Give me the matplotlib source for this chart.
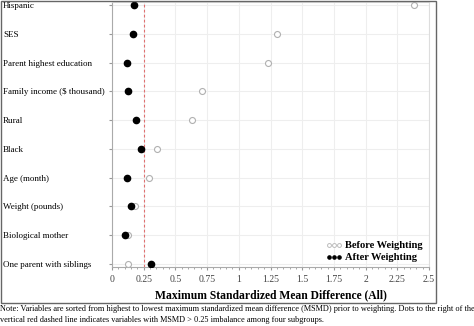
import matplotlib
matplotlib.use("Agg")
from matplotlib import pyplot as plt
from matplotlib.patches import Rectangle
from matplotlib.lines import Line2D
import matplotlib.transforms as mtransforms

variables = ['Hispanic', 'SES', 'Parent highest education', 'Family income ($ thousand)',
             'Rural', 'Black', 'Age (month)', 'Weight (pounds)', 'Biological mother',
             'One parent with siblings']
before = [2.38, 1.30, 1.23, 0.71, 0.63, 0.355, 0.29, 0.18, 0.13, 0.13]
after = [0.175, 0.167, 0.12, 0.127, 0.188, 0.225, 0.119, 0.148, 0.103, 0.307]
threshold = 0.25
xticks = [0, 0.25, 0.5, 0.75, 1, 1.25, 1.5, 1.75, 2, 2.25, 2.5]
xticklabels = ['0', '0.25', '0.5', '0.75', '1', '1.25', '1.5', '1.75', '2', '2.25', '2.5']

plt.rcParams['font.family'] = ['Liberation Serif', 'DejaVu Serif']

fig = plt.figure(figsize=(4.74, 3.26), dpi=100)
ax = fig.add_axes([112 / 474, 1 - 267 / 326, (429 - 112) / 474, 265 / 326])

ypos = list(range(len(variables) - 1, -1, -1))
ax.plot(before, ypos, 'o', ms=4.3, mfc='white', mec='#b0b0b0', mew=0.8, zorder=3)
ax.plot(after, ypos, 'o', ms=4.5, mfc='black', mec='black', zorder=4)
ax.axvline(threshold, color='#e07070', lw=0.8, ls=(0, (2.5, 2)), zorder=2)

ax.set_xlim(0, 2.5)
ax.set_ylim(-0.104, 9.104)
ax.set_xticks(xticks)
ax.set_xticklabels(xticklabels, fontsize=7, color='#444444')
ax.set_xticks([i * 0.05 for i in range(51)], minor=True)
ax.set_yticks(ypos)
ax.set_yticklabels([])

label_tr = mtransforms.blended_transform_factory(fig.transFigure, ax.transData)
for y, name in zip(ypos, variables):
    ax.text(3 / 474, y, name, transform=label_tr, fontsize=6.5,
            va='center_baseline', ha='left', clip_on=False)

ax.grid(True, which='major', color='#eeeeee', lw=0.8)
ax.tick_params(axis='both', which='major', length=2.5, color='#999999', pad=3)
ax.tick_params(axis='x', which='minor', length=1.5, color='#999999')
ax.tick_params(axis='y', length=2, pad=0)
for side in ['top', 'right']:
    ax.spines[side].set_color('#dddddd')
for side in ['left', 'bottom']:
    ax.spines[side].set_color('#aaaaaa')
for s in ax.spines.values():
    s.set_linewidth(0.8)

ax.set_xlabel('Maximum Standardized Mean Difference (All)', fontsize=8.4,
              fontweight='bold', labelpad=4)

handles = [Line2D([], [], ls='none', marker='o', ms=2.8, mfc='white', mec='#bbbbbb', mew=0.7),
           Line2D([], [], ls='none', marker='o', ms=2.3, mfc='black', mec='black')]
leg = ax.legend(handles, ['Before Weighting', 'After Weighting'], loc='lower right',
                numpoints=3, frameon=False, prop={'weight': 'bold', 'size': 7.6},
                handlelength=1.6, handletextpad=0.25, labelspacing=0.25,
                borderaxespad=0.05, bbox_to_anchor=(0.995, 0.0))

fig.patches.append(Rectangle((1 / 474, 1 - 303 / 326), 435 / 474, 302 / 326,
                             transform=fig.transFigure, fill=False,
                             ec='#666666', lw=1.0))

fig.text(0, 1 - 309 / 326, 'Note: Variables are sorted from highest to lowest maximum standardized mean difference (MSMD) prior to weighting. Dots to the right of the',
         fontsize=5.95, va='center', ha='left')
fig.text(0, 1 - 320 / 326, 'vertical red dashed line indicates variables with MSMD > 0.25 imbalance among four subgroups.',
         fontsize=5.95, va='center', ha='left')

fig.savefig('out.png', dpi=100)
